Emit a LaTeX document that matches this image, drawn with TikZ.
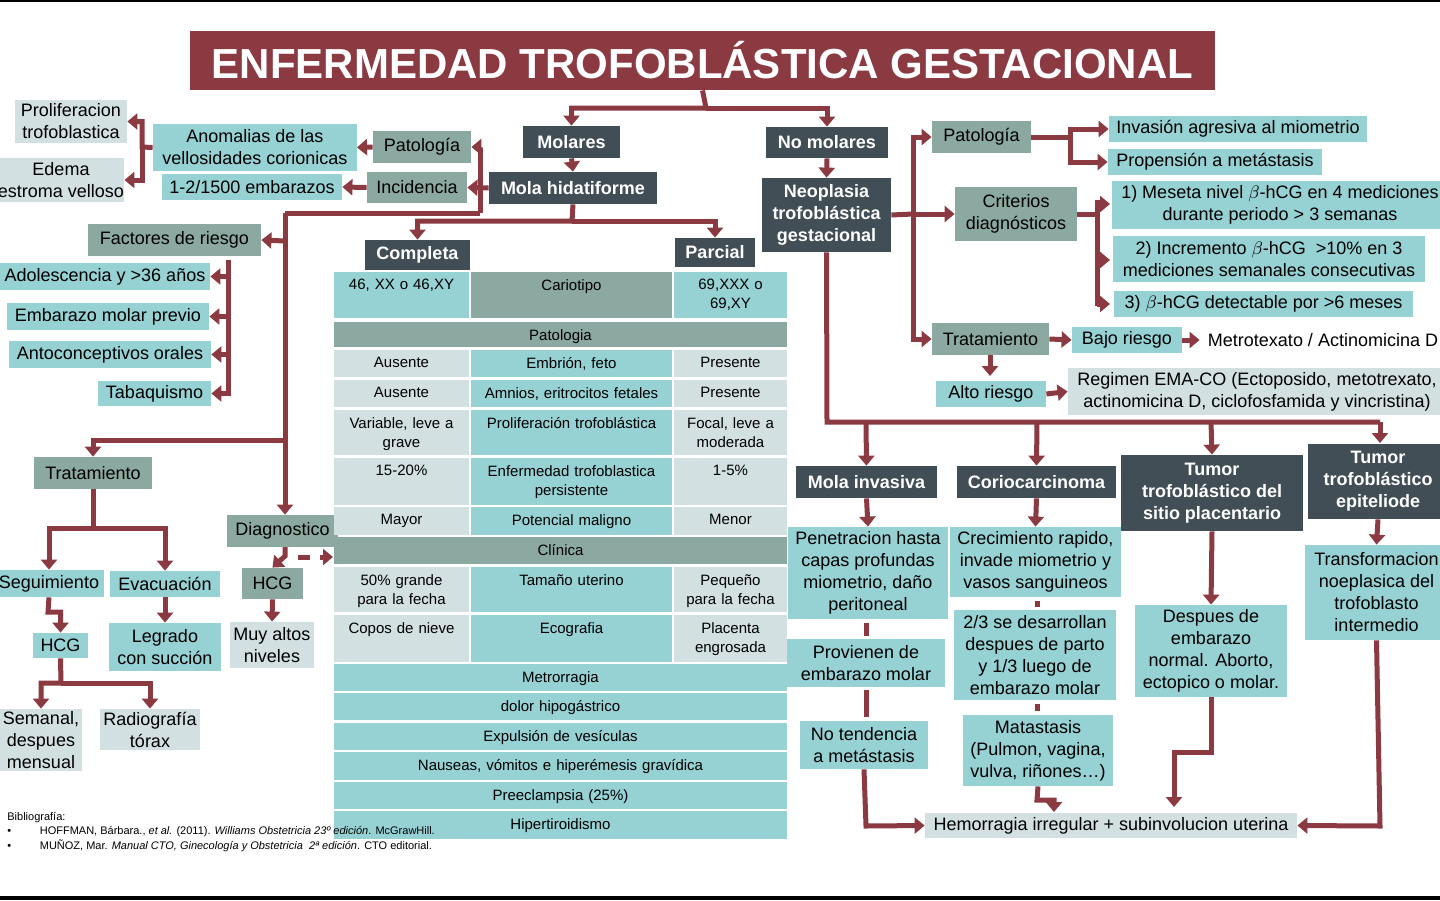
\documentclass[tikz,border=0pt]{standalone}
\usepackage{fontspec}
\setmainfont{Liberation Sans}
\usetikzlibrary{arrows.meta}
\definecolor{rd}{HTML}{8B3A42}
\definecolor{dk}{HTML}{414E55}
\definecolor{gn}{HTML}{8BA9A0}
\definecolor{cy}{HTML}{96D1D4}
\definecolor{lg}{HTML}{D3E0E1}
\newcount\cellcnt
\newcommand\B[7]{\node[#1,minimum width={(#5-#3)*0.5pt},minimum height={(#6-#4)*0.5pt}] (#2) at ({(#3+#5)/2},{(#4+#6)/2}) {#7};}
\newcommand\C[6]{\global\advance\cellcnt by 1
 \fill[#1] (#2,#3) rectangle (#4,#5);
 \node[tc,text width={(#4-#2)*0.5pt-4pt},anchor=north] (cell\the\cellcnt) at ({(#2+#4)/2},{#3+7}) {#6};}
\tikzset{
 bx/.style={inner sep=0pt,align=center,font=\fontsize{9}{11}\selectfont},
 dkb/.style={bx,fill=dk,text=white,font=\fontsize{9}{11}\selectfont\bfseries},
 gnb/.style={bx,fill=gn},
 cyb/.style={bx,fill=cy},
 lgb/.style={bx,fill=lg},
 tc/.style={inner sep=0pt,align=center,font=\fontsize{7.5}{9.5}\selectfont},
 ln/.style={draw=rd,line width=2.5pt},
 arr/.style={ln,-{Triangle[length=5pt,width=8pt]}},
}
\begin{document}
\begin{tikzpicture}[x=0.5pt,y=-0.5pt]
\useasboundingbox (0,0) rectangle (1440,900);
\fill[white] (0,0) rectangle (1440,900);
\fill[black] (0,0) rectangle (1440,2);
\fill[black] (0,896) rectangle (1440,900);
% title
\B{bx,fill=rd,text=white,font=\fontsize{21}{24}\selectfont\bfseries}{title}{190}{31}{1215}{90}{ENFERMEDAD TROFOBLÁSTICA GESTACIONAL}
\B{dkb}{mol}{523}{126}{620}{158}{Molares}
\B{dkb}{nomol}{766}{127}{888}{158}{No molares}
\draw[arr] (title.south) -- (706,108) -| (mol.north);
\draw[arr] (706,108) -| (nomol.north);
\B{dkb}{molah}{489}{172}{657}{204}{Mola hidatiforme}
\draw[arr] (mol.south) -- (molah.north);
\B{gnb}{pat1}{373}{131}{471}{163}{Patología}
\B{gnb}{inc}{367}{172}{467}{203}{Incidencia}
\B{cyb}{anom}{153}{124}{357}{171}{Anomalias de las\\vellosidades corionicas}
\B{cyb}{emb}{162}{174}{342}{200}{1-2/1500 embarazos}
\B{lgb}{prolif}{15}{100}{127}{143}{Proliferacion\\trofoblastica}
\B{lgb}{edema}{-2}{158}{124}{202}{Edema\\estroma velloso}
\draw[arr] (molah.west) -- (inc.east);
\draw[arr] (inc.west) -- (emb.east);
\draw[arr] (pat1.west) -- (anom.west -| 357,0) ;
\draw[arr] (anom.west) -- (142,147) |- (prolif.east);
\draw[arr] (142,147) |- (edema.east);
\coordinate (j1) at (480,213);
\draw[arr] (j1) -- (480,147) -- (pat1.east);
\B{gnb}{fact}{88}{224}{261}{256}{Factores de riesgo}
\B{gnb}{diag}{227}{515}{338}{547}{Diagnostico}
\draw[ln] (j1) -- (285,213);
\draw[arr] (285,213) -- (285,0 |- diag.north);
\draw[arr] (285,241) -- (fact.east);
\B{cyb}{f1}{0}{263}{210}{290}{Adolescencia y >36 años}
\B{cyb}{f2}{7}{303}{209}{330}{Embarazo molar previo}
\B{cyb}{f3}{9}{341}{211}{368}{Antoconceptivos orales}
\B{cyb}{f4}{98}{381}{211}{406}{Tabaquismo}
\draw[ln] (228,260) -- (228,396);
\foreach \n in {f1,f2,f3,f4} \draw[arr] (228,0 |- \n.east) -- (\n.east);
\B{gnb}{trat1}{34}{457}{152}{489}{Tratamiento}
\draw[arr] (285,440) -| (trat1.north);
\B{cyb}{seg}{-6}{570}{104}{597}{Seguimiento}
\B{cyb}{evac}{110}{571}{220}{597}{Evacuación}
\draw[arr] (trat1.south) -- (93,528) -| (seg.north);
\draw[arr] (93,528) -| (evac.north);
\B{cyb}{hcg1}{33}{633}{88}{658}{HCG}
\B{cyb}{leg}{109}{623}{221}{671}{Legrado\\con succión}
\draw[arr] (seg.south) -- (48,612) -| (hcg1.north);
\draw[arr] (evac.south) -- (leg.north);
\B{lgb}{sem}{0}{709}{82}{771}{Semanal,\\despues\\mensual}
\B{lgb}{rad}{100}{709}{200}{750}{Radiografía\\tórax}
\draw[arr] (hcg1.south) -- (61,683) -| (sem.north);
\draw[arr] (61,683) -| (rad.north);
\B{gnb}{hcg2}{242}{568}{303}{599}{HCG}
\B{lgb}{muy}{230}{622}{314}{668}{Muy altos\\niveles}
\draw[arr] (285,547) -- (285,556) -- (hcg2.north);
\draw[arr] (hcg2.south) -- (muy.north);
% table
\B{dkb}{comp}{365}{240}{470}{270}{Completa}
\B{dkb}{parc}{675}{238}{755}{267}{Parcial}
\draw[arr] (molah.south) -- (572,221) -| (comp.north);
\draw[arr] (572,221) -| (parc.north);
\C{cy}{334}{272}{469}{318}{46, XX o 46,XY}
\C{gn}{471}{272}{672}{318}{Cariotipo}
\C{cy}{674}{272}{787}{318}{69,XXX o\\69,XY}
\C{gn}{334}{322}{787}{347}{Patologia}
\C{lg}{334}{350}{469}{377}{Ausente}
\C{cy}{471}{350}{672}{377}{Embrión, feto}
\C{lg}{674}{350}{787}{377}{Presente}
\C{lg}{334}{380}{469}{407}{Ausente}
\C{cy}{471}{380}{672}{407}{Amnios, eritrocitos fetales}
\C{lg}{674}{380}{787}{407}{Presente}
\C{lg}{334}{410}{469}{455}{Variable, leve a\\grave}
\C{cy}{471}{410}{672}{455}{Proliferación trofoblástica}
\C{lg}{674}{410}{787}{455}{Focal, leve a\\moderada}
\C{lg}{334}{458}{469}{505}{15-20\%}
\C{cy}{471}{458}{672}{505}{Enfermedad trofoblastica\\persistente}
\C{lg}{674}{458}{787}{505}{1-5\%}
\C{lg}{334}{507}{469}{535}{Mayor}
\C{cy}{471}{507}{672}{535}{Potencial maligno}
\C{lg}{674}{507}{787}{535}{Menor}
\C{gn}{334}{537}{787}{564}{Clínica}
\C{lg}{334}{567}{469}{612}{50\% grande\\para la fecha}
\C{cy}{471}{567}{672}{612}{Tamaño uterino}
\C{lg}{674}{567}{787}{612}{Pequeño\\para la fecha}
\C{lg}{334}{615}{469}{662}{Copos de nieve}
\C{cy}{471}{615}{672}{662}{Ecografia}
\C{lg}{674}{615}{787}{662}{Placenta\\engrosada}
\C{cy}{334}{664}{787}{691}{Metrorragia}
\C{cy}{334}{693}{787}{720}{dolor hipogástrico}
\C{cy}{334}{723}{787}{750}{Expulsión de vesículas}
\C{cy}{334}{752}{787}{780}{Nauseas, vómitos e hiperémesis gravídica}
\C{cy}{334}{782}{787}{809}{Preeclampsia (25\%)}
\C{cy}{334}{811}{787}{839}{Hipertiroidismo}
\draw[arr,dash pattern=on 6pt off 5pt] (298,557) -- (333,557);
% bibliography
\node[anchor=north west,inner sep=0pt,align=left,font=\fontsize{5.5}{7.2}\selectfont] (bib) at (7,812) {Bibliografía:\\
\textbullet\hspace{2.6em}HOFFMAN, Bárbara., \textit{et al.} (2011). \textit{Williams Obstetricia 23º edición}. McGrawHill.\\
\textbullet\hspace{2.6em}MUÑOZ, Mar. \textit{Manual CTO, Ginecología y Obstetricia\ \ 2ª edición}. CTO editorial.};
% right side
\B{dkb}{neo}{762}{178}{891}{252}{Neoplasia\\trofoblástica\\gestacional}
\draw[arr] (nomol.south) -- (neo.north);
\B{gnb}{pat2}{932}{121}{1031}{153}{Patología}
\B{gnb}{crit}{955}{187}{1077}{241}{Criterios\\diagnósticos}
\B{gnb}{trat2}{932}{323}{1049}{355}{Tratamiento}
\draw[ln] (neo.east) -- (913,214);
\draw[arr] (913,214) |- (pat2.west);
\draw[arr] (913,214) |- (trat2.west);
\draw[arr] (913,214) -- (crit.west);
\B{cyb}{inv}{1109}{116}{1367}{142}{Invasión agresiva al miometrio}
\B{cyb}{prop}{1108}{149}{1322}{175}{Propensión a metástasis}
\draw[arr] (pat2.east) -- (1070,137) |- (inv.west);
\draw[arr] (1070,137) |- (prop.west);
\B{cyb}{c1}{1112}{181}{1448}{229}{1) Meseta nivel $\beta$-hCG en 4 mediciones\\durante periodo > 3 semanas}
\B{cyb}{c2}{1113}{236}{1425}{282}{2) Incremento $\beta$-hCG\ \ >10\% en 3\\mediciones semanales consecutivas}
\B{cyb}{c3}{1114}{291}{1413}{317}{3) $\beta$-hCG detectable por >6 meses}
\draw[ln] (crit.east) -- (1097,214);
\draw[ln] (1097,200) -- (1097,306);
\draw[arr] (1097,204) -- (1110,204);
\draw[arr] (1097,260) -- (1110,260);
\draw[arr] (1097,304) -- (1110,304);
\B{cyb}{bajo}{1072}{327}{1182}{353}{Bajo riesgo}
\B{lgb,fill=white}{metro}{1200}{327}{1446}{353}{Metrotexato / Actinomicina D}
\B{cyb}{alto}{936}{381}{1046}{407}{Alto riesgo}
\B{lgb}{reg}{1068}{368}{1446}{415}{Regimen EMA-CO (Ectoposido, metotrexato,\\actinomicina D, ciclofosfamida y vincristina)}
\draw[arr] (trat2.east) -- (bajo.west);
\draw[arr] (bajo.east) -- (metro.west);
\draw[arr] (990,355) -- (990,376);
\draw[arr] (alto.east) -- (reg.west);
% bottom right
\B{dkb}{minv}{796}{466}{937}{498}{Mola invasiva}
\B{dkb}{corio}{957}{466}{1116}{498}{Coriocarcinoma}
\B{dkb}{tsp}{1121}{455}{1303}{531}{Tumor\\trofoblástico del\\sitio placentario}
\B{dkb}{tep}{1308}{444}{1448}{519}{Tumor\\trofoblástico\\epiteliode}
\draw[ln] (neo.south) -- (827,422) -- (1380,422);
\draw[arr] (866,422) -- (minv.north);
\draw[arr] (1037,422) -- (corio.north);
\draw[arr] (1211,422) -- (tsp.north);
\draw[arr] (1380,422) -- (1380,443);
\B{cyb}{pen}{788}{527}{948}{619}{Penetracion hasta\\capas profundas\\miometrio, daño\\peritoneal}
\B{cyb}{prov}{787}{639}{945}{687}{Provienen de\\embarazo molar}
\B{cyb}{notend}{800}{721}{928}{769}{No tendencia\\a metástasis}
\B{cyb}{crec}{950}{527}{1121}{597}{Crecimiento rapido,\\invade miometrio y\\vasos sanguineos}
\B{cyb}{dos}{954}{610}{1116}{700}{2/3 se desarrollan\\despues de parto\\y 1/3 luego de\\embarazo molar}
\B{cyb}{meta}{963}{715}{1113}{786}{Matastasis\\(Pulmon, vagina,\\vulva, riñones…)}
\B{cyb}{desp}{1135}{605}{1287}{697}{Despues de\\embarazo\\normal. Aborto,\\ectopico o molar.}
\B{cyb}{trans}{1305}{545}{1448}{640}{Transformacion\\noeplasica del\\trofoblasto\\intermedio}
\B{lgb}{hem}{925}{813}{1297}{838}{Hemorragia irregular + subinvolucion uterina}
\draw[arr] (minv.south) -- (pen.north);
\draw[ln] (866,623) -- (866,636);
\draw[ln] (866,690) -- (866,717);
\draw[arr] (notend.south) -- (866,826) -- (hem.west);
\draw[arr] (corio.south) -- (crec.north);
\draw[ln] (1037,601) -- (1037,607);
\draw[ln] (1037,704) -- (1037,711);
\draw[arr] (meta.south) -- (1037,800) -- (1054,800) -- (1054,812);
\draw[arr] (tsp.south) -- (desp.north);
\draw[arr] (desp.south) -- (1211,752) -- (1174,752) -- (1174,807);
\draw[arr] (tep.south) -- (trans.north);
\draw[arr] (trans.south) -- (1380,826) -- (hem.east);
\end{tikzpicture}
\end{document}
